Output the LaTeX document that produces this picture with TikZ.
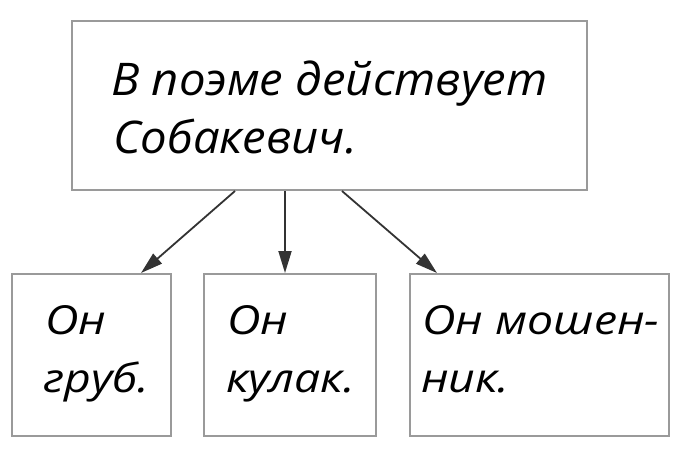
\documentclass[tikz,border=0pt]{standalone}
\usepackage{fontspec}
\setmainfont{Open Sans}
\newfontfamily\topfam{Open Sans}[FakeStretch=1.05]
\newfontfamily\subfam{Open Sans}[FakeStretch=1.16]
\usetikzlibrary{arrows.meta,calc}
\tikzset{
  box/.style={draw=boxgray, line width=2pt, inner sep=0pt, fill=white},
  toptext/.style={anchor=base west, inner sep=0pt, font=\topfam\fontsize{45}{52}\selectfont\itshape},
  subtext/.style={anchor=base west, inner sep=0pt, font=\subfam\fontsize{40}{46}\selectfont\itshape},
  arr/.style={draw=arrgray, line width=1.8pt, -{Triangle[length=22pt,width=13pt]}, shorten >=0pt}
}
\definecolor{boxgray}{HTML}{9A9A9A}
\definecolor{arrgray}{HTML}{333333}
\begin{document}
\begin{tikzpicture}[x=1pt,y=-1pt]
\useasboundingbox (0,0) rectangle (685,448);
\node[box, minimum width=515pt, minimum height=169pt] (top) at (329.5,105.5) {};
\node[box, minimum width=159pt, minimum height=162pt] (b1) at (91.5,355) {};
\node[box, minimum width=172pt, minimum height=162pt] (b2) at (290,355) {};
\node[box, minimum width=259pt, minimum height=162pt] (b3) at (539.5,355) {};
\node[toptext] (t1) at (111,95) {В поэме действует};
\node[toptext] (t2) at (113,153) {Собакевич.};
\node[subtext] (a1) at (45,334) {Он};
\node[subtext] (a2) at (43,392) {груб.};
\node[subtext] (c1) at (227,334) {Он};
\node[subtext] (c2) at (226,392) {кулак.};
\node[subtext] (d1) at (422,334) {Он мошен-};
\node[subtext] (d2) at (421,392) {ник.};
\draw[arr] ($(top.south west)+(164,0)$) -- ($(b1.north west)+(130,0)$);
\draw[arr] ($(top.south west)+(214,0)$) -- ($(b2.north west)+(82,0)$);
\draw[arr] ($(top.south west)+(271,0)$) -- ($(b3.north west)+(28,0)$);
\end{tikzpicture}
\end{document}
